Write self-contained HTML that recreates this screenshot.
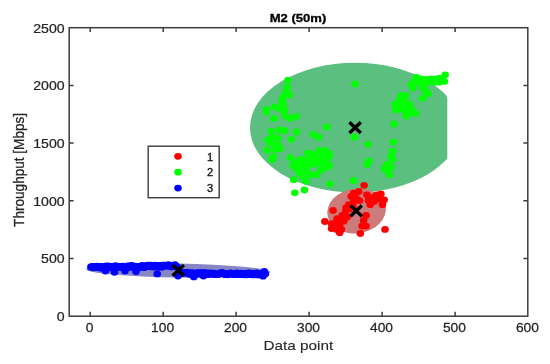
<!DOCTYPE html>
<html lang="en"><head><meta charset="utf-8"><title>M2 (50m)</title>
<style>html,body{margin:0;padding:0;background:#fff}body{width:550px;height:364px;overflow:hidden}</style>
</head><body>
<svg width="550" height="364" viewBox="0 0 550 364" style="display:block;filter:blur(0.3px)">
<rect x="0" y="0" width="550" height="364" fill="#ffffff"/>
<defs><clipPath id="gc"><rect x="0" y="0" width="447.3" height="364"/></clipPath></defs>
<ellipse cx="355" cy="127.6" rx="105" ry="64.8" fill="#5bbf80" clip-path="url(#gc)"/>
<ellipse cx="356.6" cy="210.9" rx="29.4" ry="22.4" fill="#cc7a7a" transform="rotate(-8 356.6 210.9)"/>
<ellipse cx="178.2" cy="270.6" rx="92" ry="7.0" fill="#8686c5" transform="rotate(0.9 178.2 270.6)"/>
<g fill="#ff0000"><ellipse cx="364.1" cy="185.3" rx="3.8" ry="3.4"/><ellipse cx="358.7" cy="191.5" rx="3.8" ry="3.4"/><ellipse cx="353.7" cy="193.2" rx="3.8" ry="3.4"/><ellipse cx="351.2" cy="196.5" rx="3.8" ry="3.4"/><ellipse cx="356.2" cy="198.1" rx="3.8" ry="3.4"/><ellipse cx="359.5" cy="200.6" rx="3.8" ry="3.4"/><ellipse cx="353.7" cy="201.4" rx="3.8" ry="3.4"/><ellipse cx="348.8" cy="204.7" rx="3.8" ry="3.4"/><ellipse cx="353.0" cy="207.0" rx="3.8" ry="3.4"/><ellipse cx="366.9" cy="194.8" rx="3.8" ry="3.4"/><ellipse cx="371.8" cy="197.3" rx="3.8" ry="3.4"/><ellipse cx="376.8" cy="194.8" rx="3.8" ry="3.4"/><ellipse cx="380.9" cy="194.0" rx="3.8" ry="3.4"/><ellipse cx="384.2" cy="199.8" rx="3.8" ry="3.4"/><ellipse cx="382.5" cy="204.7" rx="3.8" ry="3.4"/><ellipse cx="378.4" cy="198.9" rx="3.8" ry="3.4"/><ellipse cx="374.3" cy="201.4" rx="3.8" ry="3.4"/><ellipse cx="370.2" cy="204.7" rx="3.8" ry="3.4"/><ellipse cx="368.5" cy="200.6" rx="3.8" ry="3.4"/><ellipse cx="333.1" cy="210.5" rx="3.8" ry="3.4"/><ellipse cx="345.5" cy="212.1" rx="3.8" ry="3.4"/><ellipse cx="342.2" cy="215.4" rx="3.8" ry="3.4"/><ellipse cx="347.1" cy="217.1" rx="3.8" ry="3.4"/><ellipse cx="337.2" cy="218.7" rx="3.8" ry="3.4"/><ellipse cx="324.9" cy="221.5" rx="3.8" ry="3.4"/><ellipse cx="331.5" cy="223.7" rx="3.8" ry="3.4"/><ellipse cx="335.6" cy="222.8" rx="3.8" ry="3.4"/><ellipse cx="339.7" cy="224.5" rx="3.8" ry="3.4"/><ellipse cx="343.8" cy="221.2" rx="3.8" ry="3.4"/><ellipse cx="331.5" cy="228.6" rx="3.8" ry="3.4"/><ellipse cx="336.4" cy="229.4" rx="3.8" ry="3.4"/><ellipse cx="341.4" cy="229.4" rx="3.8" ry="3.4"/><ellipse cx="339.7" cy="232.7" rx="3.8" ry="3.4"/><ellipse cx="366.1" cy="215.4" rx="3.8" ry="3.4"/><ellipse cx="363.6" cy="220.4" rx="3.8" ry="3.4"/><ellipse cx="362.0" cy="226.1" rx="3.8" ry="3.4"/><ellipse cx="366.1" cy="226.1" rx="3.8" ry="3.4"/><ellipse cx="360.3" cy="233.5" rx="3.8" ry="3.4"/><ellipse cx="385.0" cy="229.4" rx="3.8" ry="3.4"/><ellipse cx="350.0" cy="209.0" rx="3.8" ry="3.4"/><ellipse cx="346.0" cy="208.0" rx="3.8" ry="3.4"/></g>
<g fill="#00ff00"><ellipse cx="287.9" cy="80.1" rx="3.8" ry="3.4"/><ellipse cx="287.1" cy="87.2" rx="3.8" ry="3.4"/><ellipse cx="285.9" cy="91.6" rx="3.8" ry="3.4"/><ellipse cx="289.2" cy="94.9" rx="3.8" ry="3.4"/><ellipse cx="283.0" cy="97.1" rx="3.8" ry="3.4"/><ellipse cx="282.1" cy="100.9" rx="3.8" ry="3.4"/><ellipse cx="283.0" cy="103.7" rx="3.8" ry="3.4"/><ellipse cx="275.0" cy="107.0" rx="3.8" ry="3.4"/><ellipse cx="266.5" cy="109.4" rx="3.8" ry="3.4"/><ellipse cx="266.5" cy="111.9" rx="3.8" ry="3.4"/><ellipse cx="279.7" cy="108.6" rx="3.8" ry="3.4"/><ellipse cx="284.6" cy="109.4" rx="3.8" ry="3.4"/><ellipse cx="285.4" cy="116.0" rx="3.8" ry="3.4"/><ellipse cx="296.1" cy="116.3" rx="3.8" ry="3.4"/><ellipse cx="290.4" cy="118.5" rx="3.8" ry="3.4"/><ellipse cx="273.9" cy="118.5" rx="3.8" ry="3.4"/><ellipse cx="283.0" cy="110.8" rx="3.8" ry="3.4"/><ellipse cx="271.4" cy="131.4" rx="3.8" ry="3.4"/><ellipse cx="279.7" cy="129.8" rx="3.8" ry="3.4"/><ellipse cx="284.6" cy="130.6" rx="3.8" ry="3.4"/><ellipse cx="296.5" cy="131.9" rx="3.8" ry="3.4"/><ellipse cx="326.6" cy="127.0" rx="3.8" ry="3.4"/><ellipse cx="313.4" cy="134.7" rx="3.8" ry="3.4"/><ellipse cx="318.4" cy="137.2" rx="3.8" ry="3.4"/><ellipse cx="291.5" cy="139.3" rx="3.8" ry="3.4"/><ellipse cx="268.1" cy="139.7" rx="3.8" ry="3.4"/><ellipse cx="273.1" cy="137.2" rx="3.8" ry="3.4"/><ellipse cx="278.0" cy="138.0" rx="3.8" ry="3.4"/><ellipse cx="270.6" cy="143.0" rx="3.8" ry="3.4"/><ellipse cx="277.2" cy="144.6" rx="3.8" ry="3.4"/><ellipse cx="279.7" cy="148.7" rx="3.8" ry="3.4"/><ellipse cx="267.3" cy="150.0" rx="3.8" ry="3.4"/><ellipse cx="275.5" cy="149.5" rx="3.8" ry="3.4"/><ellipse cx="273.1" cy="157.0" rx="3.8" ry="3.4"/><ellipse cx="272.2" cy="159.4" rx="3.8" ry="3.4"/><ellipse cx="290.4" cy="157.8" rx="3.8" ry="3.4"/><ellipse cx="307.7" cy="152.8" rx="3.8" ry="3.4"/><ellipse cx="312.6" cy="154.5" rx="3.8" ry="3.4"/><ellipse cx="319.2" cy="150.4" rx="3.8" ry="3.4"/><ellipse cx="325.0" cy="150.4" rx="3.8" ry="3.4"/><ellipse cx="329.1" cy="153.7" rx="3.8" ry="3.4"/><ellipse cx="322.5" cy="157.0" rx="3.8" ry="3.4"/><ellipse cx="315.9" cy="159.4" rx="3.8" ry="3.4"/><ellipse cx="309.3" cy="158.6" rx="3.8" ry="3.4"/><ellipse cx="301.1" cy="159.4" rx="3.8" ry="3.4"/><ellipse cx="297.0" cy="161.9" rx="3.8" ry="3.4"/><ellipse cx="292.8" cy="165.2" rx="3.8" ry="3.4"/><ellipse cx="299.4" cy="166.0" rx="3.8" ry="3.4"/><ellipse cx="306.0" cy="165.2" rx="3.8" ry="3.4"/><ellipse cx="312.6" cy="164.4" rx="3.8" ry="3.4"/><ellipse cx="319.2" cy="162.7" rx="3.8" ry="3.4"/><ellipse cx="325.8" cy="161.1" rx="3.8" ry="3.4"/><ellipse cx="329.1" cy="165.2" rx="3.8" ry="3.4"/><ellipse cx="322.5" cy="167.7" rx="3.8" ry="3.4"/><ellipse cx="293.7" cy="165.7" rx="3.8" ry="3.4"/><ellipse cx="297.8" cy="162.4" rx="3.8" ry="3.4"/><ellipse cx="301.9" cy="159.9" rx="3.8" ry="3.4"/><ellipse cx="307.7" cy="153.3" rx="3.8" ry="3.4"/><ellipse cx="312.6" cy="156.6" rx="3.8" ry="3.4"/><ellipse cx="319.2" cy="152.5" rx="3.8" ry="3.4"/><ellipse cx="325.0" cy="153.3" rx="3.8" ry="3.4"/><ellipse cx="329.1" cy="156.6" rx="3.8" ry="3.4"/><ellipse cx="322.5" cy="159.9" rx="3.8" ry="3.4"/><ellipse cx="315.9" cy="162.4" rx="3.8" ry="3.4"/><ellipse cx="309.3" cy="163.2" rx="3.8" ry="3.4"/><ellipse cx="302.7" cy="165.7" rx="3.8" ry="3.4"/><ellipse cx="297.0" cy="168.9" rx="3.8" ry="3.4"/><ellipse cx="299.4" cy="173.1" rx="3.8" ry="3.4"/><ellipse cx="306.0" cy="170.6" rx="3.8" ry="3.4"/><ellipse cx="311.0" cy="174.7" rx="3.8" ry="3.4"/><ellipse cx="316.7" cy="174.7" rx="3.8" ry="3.4"/><ellipse cx="320.8" cy="169.8" rx="3.8" ry="3.4"/><ellipse cx="326.6" cy="167.3" rx="3.8" ry="3.4"/><ellipse cx="329.1" cy="165.7" rx="3.8" ry="3.4"/><ellipse cx="303.5" cy="177.2" rx="3.8" ry="3.4"/><ellipse cx="306.0" cy="181.3" rx="3.8" ry="3.4"/><ellipse cx="293.7" cy="179.7" rx="3.8" ry="3.4"/><ellipse cx="329.9" cy="183.8" rx="3.8" ry="3.4"/><ellipse cx="304.4" cy="190.0" rx="3.8" ry="3.4"/><ellipse cx="294.8" cy="192.8" rx="3.8" ry="3.4"/><ellipse cx="355.0" cy="84.0" rx="3.8" ry="3.4"/><ellipse cx="445.2" cy="74.8" rx="3.8" ry="3.4"/><ellipse cx="444.4" cy="81.4" rx="3.8" ry="3.4"/><ellipse cx="440.2" cy="78.1" rx="3.8" ry="3.4"/><ellipse cx="436.1" cy="78.9" rx="3.8" ry="3.4"/><ellipse cx="431.2" cy="78.9" rx="3.8" ry="3.4"/><ellipse cx="426.2" cy="79.4" rx="3.8" ry="3.4"/><ellipse cx="421.3" cy="78.9" rx="3.8" ry="3.4"/><ellipse cx="416.4" cy="77.3" rx="3.8" ry="3.4"/><ellipse cx="439.4" cy="82.2" rx="3.8" ry="3.4"/><ellipse cx="434.5" cy="82.2" rx="3.8" ry="3.4"/><ellipse cx="429.5" cy="82.2" rx="3.8" ry="3.4"/><ellipse cx="424.6" cy="82.2" rx="3.8" ry="3.4"/><ellipse cx="419.7" cy="82.2" rx="3.8" ry="3.4"/><ellipse cx="414.7" cy="81.4" rx="3.8" ry="3.4"/><ellipse cx="411.4" cy="84.7" rx="3.8" ry="3.4"/><ellipse cx="413.1" cy="88.0" rx="3.8" ry="3.4"/><ellipse cx="422.9" cy="87.2" rx="3.8" ry="3.4"/><ellipse cx="425.4" cy="90.5" rx="3.8" ry="3.4"/><ellipse cx="427.9" cy="93.8" rx="3.8" ry="3.4"/><ellipse cx="422.5" cy="98.2" rx="3.8" ry="3.4"/><ellipse cx="401.5" cy="95.4" rx="3.8" ry="3.4"/><ellipse cx="405.7" cy="95.9" rx="3.8" ry="3.4"/><ellipse cx="399.9" cy="99.5" rx="3.8" ry="3.4"/><ellipse cx="404.0" cy="100.4" rx="3.8" ry="3.4"/><ellipse cx="394.9" cy="104.5" rx="3.8" ry="3.4"/><ellipse cx="399.9" cy="104.5" rx="3.8" ry="3.4"/><ellipse cx="404.8" cy="104.5" rx="3.8" ry="3.4"/><ellipse cx="409.8" cy="104.5" rx="3.8" ry="3.4"/><ellipse cx="395.8" cy="108.6" rx="3.8" ry="3.4"/><ellipse cx="401.5" cy="108.6" rx="3.8" ry="3.4"/><ellipse cx="406.5" cy="109.4" rx="3.8" ry="3.4"/><ellipse cx="411.4" cy="109.4" rx="3.8" ry="3.4"/><ellipse cx="405.7" cy="113.5" rx="3.8" ry="3.4"/><ellipse cx="410.6" cy="112.7" rx="3.8" ry="3.4"/><ellipse cx="415.5" cy="113.5" rx="3.8" ry="3.4"/><ellipse cx="406.5" cy="116.0" rx="3.8" ry="3.4"/><ellipse cx="354.3" cy="137.2" rx="3.8" ry="3.4"/><ellipse cx="368.0" cy="144.3" rx="3.8" ry="3.4"/><ellipse cx="394.0" cy="124.0" rx="3.8" ry="3.4"/><ellipse cx="393.5" cy="142.1" rx="3.8" ry="3.4"/><ellipse cx="392.7" cy="151.2" rx="3.8" ry="3.4"/><ellipse cx="391.1" cy="157.0" rx="3.8" ry="3.4"/><ellipse cx="392.7" cy="159.4" rx="3.8" ry="3.4"/><ellipse cx="368.8" cy="161.1" rx="3.8" ry="3.4"/><ellipse cx="367.2" cy="164.4" rx="3.8" ry="3.4"/><ellipse cx="387.0" cy="164.4" rx="3.8" ry="3.4"/><ellipse cx="389.4" cy="167.7" rx="3.8" ry="3.4"/><ellipse cx="384.5" cy="168.5" rx="3.8" ry="3.4"/><ellipse cx="396.0" cy="110.0" rx="3.8" ry="3.4"/><ellipse cx="409.2" cy="110.8" rx="3.8" ry="3.4"/><ellipse cx="391.1" cy="167.3" rx="3.8" ry="3.4"/><ellipse cx="385.3" cy="169.8" rx="3.8" ry="3.4"/><ellipse cx="389.4" cy="174.7" rx="3.8" ry="3.4"/><ellipse cx="353.5" cy="180.5" rx="3.8" ry="3.4"/></g>
<g fill="#0000ff"><ellipse cx="90.9" cy="267.0" rx="3.8" ry="3.4"/><ellipse cx="91.7" cy="266.6" rx="3.8" ry="3.4"/><ellipse cx="92.4" cy="267.8" rx="3.8" ry="3.4"/><ellipse cx="93.1" cy="266.4" rx="3.8" ry="3.4"/><ellipse cx="93.8" cy="267.5" rx="3.8" ry="3.4"/><ellipse cx="94.6" cy="267.1" rx="3.8" ry="3.4"/><ellipse cx="95.3" cy="266.3" rx="3.8" ry="3.4"/><ellipse cx="96.0" cy="267.4" rx="3.8" ry="3.4"/><ellipse cx="96.8" cy="266.2" rx="3.8" ry="3.4"/><ellipse cx="97.5" cy="267.2" rx="3.8" ry="3.4"/><ellipse cx="98.2" cy="266.3" rx="3.8" ry="3.4"/><ellipse cx="99.0" cy="266.3" rx="3.8" ry="3.4"/><ellipse cx="99.7" cy="267.1" rx="3.8" ry="3.4"/><ellipse cx="100.4" cy="268.1" rx="3.8" ry="3.4"/><ellipse cx="101.1" cy="266.3" rx="3.8" ry="3.4"/><ellipse cx="101.9" cy="266.6" rx="3.8" ry="3.4"/><ellipse cx="102.6" cy="267.6" rx="3.8" ry="3.4"/><ellipse cx="103.3" cy="268.3" rx="3.8" ry="3.4"/><ellipse cx="104.1" cy="267.4" rx="3.8" ry="3.4"/><ellipse cx="104.8" cy="266.9" rx="3.8" ry="3.4"/><ellipse cx="105.5" cy="268.4" rx="3.8" ry="3.4"/><ellipse cx="106.3" cy="266.0" rx="3.8" ry="3.4"/><ellipse cx="107.0" cy="268.0" rx="3.8" ry="3.4"/><ellipse cx="107.7" cy="266.6" rx="3.8" ry="3.4"/><ellipse cx="108.4" cy="266.2" rx="3.8" ry="3.4"/><ellipse cx="109.2" cy="266.2" rx="3.8" ry="3.4"/><ellipse cx="109.9" cy="266.6" rx="3.8" ry="3.4"/><ellipse cx="110.6" cy="267.9" rx="3.8" ry="3.4"/><ellipse cx="111.4" cy="266.3" rx="3.8" ry="3.4"/><ellipse cx="112.1" cy="267.3" rx="3.8" ry="3.4"/><ellipse cx="112.8" cy="267.4" rx="3.8" ry="3.4"/><ellipse cx="113.6" cy="266.7" rx="3.8" ry="3.4"/><ellipse cx="114.3" cy="267.1" rx="3.8" ry="3.4"/><ellipse cx="115.0" cy="265.9" rx="3.8" ry="3.4"/><ellipse cx="115.7" cy="265.9" rx="3.8" ry="3.4"/><ellipse cx="116.5" cy="266.2" rx="3.8" ry="3.4"/><ellipse cx="117.2" cy="267.4" rx="3.8" ry="3.4"/><ellipse cx="117.9" cy="266.7" rx="3.8" ry="3.4"/><ellipse cx="118.7" cy="266.4" rx="3.8" ry="3.4"/><ellipse cx="119.4" cy="267.1" rx="3.8" ry="3.4"/><ellipse cx="120.1" cy="266.8" rx="3.8" ry="3.4"/><ellipse cx="120.8" cy="266.4" rx="3.8" ry="3.4"/><ellipse cx="121.6" cy="267.6" rx="3.8" ry="3.4"/><ellipse cx="122.3" cy="267.3" rx="3.8" ry="3.4"/><ellipse cx="123.0" cy="266.2" rx="3.8" ry="3.4"/><ellipse cx="123.8" cy="267.0" rx="3.8" ry="3.4"/><ellipse cx="124.5" cy="266.9" rx="3.8" ry="3.4"/><ellipse cx="125.2" cy="267.7" rx="3.8" ry="3.4"/><ellipse cx="126.0" cy="267.3" rx="3.8" ry="3.4"/><ellipse cx="126.7" cy="266.2" rx="3.8" ry="3.4"/><ellipse cx="127.4" cy="267.9" rx="3.8" ry="3.4"/><ellipse cx="128.1" cy="265.8" rx="3.8" ry="3.4"/><ellipse cx="128.9" cy="266.5" rx="3.8" ry="3.4"/><ellipse cx="129.6" cy="267.3" rx="3.8" ry="3.4"/><ellipse cx="130.3" cy="265.8" rx="3.8" ry="3.4"/><ellipse cx="131.1" cy="266.6" rx="3.8" ry="3.4"/><ellipse cx="131.8" cy="265.5" rx="3.8" ry="3.4"/><ellipse cx="132.5" cy="267.0" rx="3.8" ry="3.4"/><ellipse cx="133.3" cy="267.3" rx="3.8" ry="3.4"/><ellipse cx="134.0" cy="266.8" rx="3.8" ry="3.4"/><ellipse cx="134.7" cy="267.5" rx="3.8" ry="3.4"/><ellipse cx="135.4" cy="266.1" rx="3.8" ry="3.4"/><ellipse cx="136.2" cy="267.0" rx="3.8" ry="3.4"/><ellipse cx="136.9" cy="266.8" rx="3.8" ry="3.4"/><ellipse cx="137.6" cy="266.7" rx="3.8" ry="3.4"/><ellipse cx="138.4" cy="266.4" rx="3.8" ry="3.4"/><ellipse cx="139.1" cy="267.3" rx="3.8" ry="3.4"/><ellipse cx="139.8" cy="267.6" rx="3.8" ry="3.4"/><ellipse cx="140.5" cy="266.4" rx="3.8" ry="3.4"/><ellipse cx="141.3" cy="266.9" rx="3.8" ry="3.4"/><ellipse cx="142.0" cy="265.3" rx="3.8" ry="3.4"/><ellipse cx="142.7" cy="266.9" rx="3.8" ry="3.4"/><ellipse cx="143.5" cy="266.8" rx="3.8" ry="3.4"/><ellipse cx="144.2" cy="267.6" rx="3.8" ry="3.4"/><ellipse cx="144.9" cy="267.2" rx="3.8" ry="3.4"/><ellipse cx="145.7" cy="265.8" rx="3.8" ry="3.4"/><ellipse cx="146.4" cy="266.0" rx="3.8" ry="3.4"/><ellipse cx="147.1" cy="266.7" rx="3.8" ry="3.4"/><ellipse cx="147.8" cy="265.1" rx="3.8" ry="3.4"/><ellipse cx="148.6" cy="266.2" rx="3.8" ry="3.4"/><ellipse cx="149.3" cy="265.4" rx="3.8" ry="3.4"/><ellipse cx="150.0" cy="265.3" rx="3.8" ry="3.4"/><ellipse cx="150.8" cy="265.1" rx="3.8" ry="3.4"/><ellipse cx="151.5" cy="266.9" rx="3.8" ry="3.4"/><ellipse cx="152.2" cy="265.3" rx="3.8" ry="3.4"/><ellipse cx="153.0" cy="265.6" rx="3.8" ry="3.4"/><ellipse cx="153.7" cy="265.9" rx="3.8" ry="3.4"/><ellipse cx="154.4" cy="267.1" rx="3.8" ry="3.4"/><ellipse cx="155.1" cy="265.1" rx="3.8" ry="3.4"/><ellipse cx="155.9" cy="266.0" rx="3.8" ry="3.4"/><ellipse cx="156.6" cy="266.2" rx="3.8" ry="3.4"/><ellipse cx="157.3" cy="267.1" rx="3.8" ry="3.4"/><ellipse cx="158.1" cy="266.9" rx="3.8" ry="3.4"/><ellipse cx="158.8" cy="267.0" rx="3.8" ry="3.4"/><ellipse cx="159.5" cy="265.5" rx="3.8" ry="3.4"/><ellipse cx="160.3" cy="265.8" rx="3.8" ry="3.4"/><ellipse cx="161.0" cy="265.7" rx="3.8" ry="3.4"/><ellipse cx="161.7" cy="267.0" rx="3.8" ry="3.4"/><ellipse cx="162.4" cy="267.1" rx="3.8" ry="3.4"/><ellipse cx="163.2" cy="265.1" rx="3.8" ry="3.4"/><ellipse cx="163.9" cy="265.2" rx="3.8" ry="3.4"/><ellipse cx="164.6" cy="265.3" rx="3.8" ry="3.4"/><ellipse cx="165.4" cy="265.3" rx="3.8" ry="3.4"/><ellipse cx="166.1" cy="265.9" rx="3.8" ry="3.4"/><ellipse cx="166.8" cy="266.1" rx="3.8" ry="3.4"/><ellipse cx="167.5" cy="265.3" rx="3.8" ry="3.4"/><ellipse cx="168.3" cy="264.6" rx="3.8" ry="3.4"/><ellipse cx="169.0" cy="265.7" rx="3.8" ry="3.4"/><ellipse cx="169.7" cy="265.5" rx="3.8" ry="3.4"/><ellipse cx="170.5" cy="266.0" rx="3.8" ry="3.4"/><ellipse cx="171.2" cy="267.0" rx="3.8" ry="3.4"/><ellipse cx="171.9" cy="266.3" rx="3.8" ry="3.4"/><ellipse cx="172.7" cy="265.8" rx="3.8" ry="3.4"/><ellipse cx="173.4" cy="266.1" rx="3.8" ry="3.4"/><ellipse cx="174.1" cy="266.2" rx="3.8" ry="3.4"/><ellipse cx="174.8" cy="264.6" rx="3.8" ry="3.4"/><ellipse cx="175.6" cy="266.7" rx="3.8" ry="3.4"/><ellipse cx="176.3" cy="266.4" rx="3.8" ry="3.4"/><ellipse cx="177.0" cy="266.6" rx="3.8" ry="3.4"/><ellipse cx="177.8" cy="274.1" rx="3.8" ry="3.4"/><ellipse cx="178.5" cy="273.3" rx="3.8" ry="3.4"/><ellipse cx="179.2" cy="273.3" rx="3.8" ry="3.4"/><ellipse cx="180.0" cy="272.7" rx="3.8" ry="3.4"/><ellipse cx="180.7" cy="273.8" rx="3.8" ry="3.4"/><ellipse cx="181.4" cy="272.6" rx="3.8" ry="3.4"/><ellipse cx="182.1" cy="272.6" rx="3.8" ry="3.4"/><ellipse cx="182.9" cy="272.9" rx="3.8" ry="3.4"/><ellipse cx="183.6" cy="272.8" rx="3.8" ry="3.4"/><ellipse cx="184.3" cy="273.2" rx="3.8" ry="3.4"/><ellipse cx="185.1" cy="272.6" rx="3.8" ry="3.4"/><ellipse cx="185.8" cy="272.5" rx="3.8" ry="3.4"/><ellipse cx="186.5" cy="272.8" rx="3.8" ry="3.4"/><ellipse cx="187.3" cy="272.7" rx="3.8" ry="3.4"/><ellipse cx="188.0" cy="273.3" rx="3.8" ry="3.4"/><ellipse cx="188.7" cy="272.6" rx="3.8" ry="3.4"/><ellipse cx="189.4" cy="274.3" rx="3.8" ry="3.4"/><ellipse cx="190.2" cy="273.8" rx="3.8" ry="3.4"/><ellipse cx="190.9" cy="272.8" rx="3.8" ry="3.4"/><ellipse cx="191.6" cy="273.0" rx="3.8" ry="3.4"/><ellipse cx="192.4" cy="273.2" rx="3.8" ry="3.4"/><ellipse cx="193.1" cy="273.3" rx="3.8" ry="3.4"/><ellipse cx="193.8" cy="272.8" rx="3.8" ry="3.4"/><ellipse cx="194.5" cy="274.3" rx="3.8" ry="3.4"/><ellipse cx="195.3" cy="274.6" rx="3.8" ry="3.4"/><ellipse cx="196.0" cy="273.5" rx="3.8" ry="3.4"/><ellipse cx="196.7" cy="273.6" rx="3.8" ry="3.4"/><ellipse cx="197.5" cy="272.7" rx="3.8" ry="3.4"/><ellipse cx="198.2" cy="272.8" rx="3.8" ry="3.4"/><ellipse cx="198.9" cy="273.3" rx="3.8" ry="3.4"/><ellipse cx="199.7" cy="273.1" rx="3.8" ry="3.4"/><ellipse cx="200.4" cy="274.3" rx="3.8" ry="3.4"/><ellipse cx="201.1" cy="272.9" rx="3.8" ry="3.4"/><ellipse cx="201.8" cy="272.6" rx="3.8" ry="3.4"/><ellipse cx="202.6" cy="274.6" rx="3.8" ry="3.4"/><ellipse cx="203.3" cy="273.7" rx="3.8" ry="3.4"/><ellipse cx="204.0" cy="272.9" rx="3.8" ry="3.4"/><ellipse cx="204.8" cy="273.7" rx="3.8" ry="3.4"/><ellipse cx="205.5" cy="272.6" rx="3.8" ry="3.4"/><ellipse cx="206.2" cy="273.7" rx="3.8" ry="3.4"/><ellipse cx="207.0" cy="274.6" rx="3.8" ry="3.4"/><ellipse cx="207.7" cy="274.4" rx="3.8" ry="3.4"/><ellipse cx="208.4" cy="274.1" rx="3.8" ry="3.4"/><ellipse cx="209.1" cy="273.1" rx="3.8" ry="3.4"/><ellipse cx="209.9" cy="273.4" rx="3.8" ry="3.4"/><ellipse cx="210.6" cy="273.0" rx="3.8" ry="3.4"/><ellipse cx="211.3" cy="274.2" rx="3.8" ry="3.4"/><ellipse cx="212.1" cy="273.7" rx="3.8" ry="3.4"/><ellipse cx="212.8" cy="274.2" rx="3.8" ry="3.4"/><ellipse cx="213.5" cy="273.3" rx="3.8" ry="3.4"/><ellipse cx="214.2" cy="273.1" rx="3.8" ry="3.4"/><ellipse cx="215.0" cy="274.3" rx="3.8" ry="3.4"/><ellipse cx="215.7" cy="274.7" rx="3.8" ry="3.4"/><ellipse cx="216.4" cy="274.4" rx="3.8" ry="3.4"/><ellipse cx="217.2" cy="274.3" rx="3.8" ry="3.4"/><ellipse cx="217.9" cy="274.4" rx="3.8" ry="3.4"/><ellipse cx="218.6" cy="274.2" rx="3.8" ry="3.4"/><ellipse cx="219.4" cy="273.1" rx="3.8" ry="3.4"/><ellipse cx="220.1" cy="273.7" rx="3.8" ry="3.4"/><ellipse cx="220.8" cy="273.4" rx="3.8" ry="3.4"/><ellipse cx="221.5" cy="272.7" rx="3.8" ry="3.4"/><ellipse cx="222.3" cy="272.7" rx="3.8" ry="3.4"/><ellipse cx="223.0" cy="273.2" rx="3.8" ry="3.4"/><ellipse cx="223.7" cy="273.2" rx="3.8" ry="3.4"/><ellipse cx="224.5" cy="274.1" rx="3.8" ry="3.4"/><ellipse cx="225.2" cy="274.7" rx="3.8" ry="3.4"/><ellipse cx="225.9" cy="273.6" rx="3.8" ry="3.4"/><ellipse cx="226.7" cy="274.6" rx="3.8" ry="3.4"/><ellipse cx="227.4" cy="274.8" rx="3.8" ry="3.4"/><ellipse cx="228.1" cy="274.7" rx="3.8" ry="3.4"/><ellipse cx="228.8" cy="273.4" rx="3.8" ry="3.4"/><ellipse cx="229.6" cy="273.1" rx="3.8" ry="3.4"/><ellipse cx="230.3" cy="273.2" rx="3.8" ry="3.4"/><ellipse cx="231.0" cy="273.1" rx="3.8" ry="3.4"/><ellipse cx="231.8" cy="273.1" rx="3.8" ry="3.4"/><ellipse cx="232.5" cy="274.0" rx="3.8" ry="3.4"/><ellipse cx="233.2" cy="274.6" rx="3.8" ry="3.4"/><ellipse cx="234.0" cy="274.5" rx="3.8" ry="3.4"/><ellipse cx="234.7" cy="273.7" rx="3.8" ry="3.4"/><ellipse cx="235.4" cy="274.1" rx="3.8" ry="3.4"/><ellipse cx="236.1" cy="274.4" rx="3.8" ry="3.4"/><ellipse cx="236.9" cy="272.9" rx="3.8" ry="3.4"/><ellipse cx="237.6" cy="274.1" rx="3.8" ry="3.4"/><ellipse cx="238.3" cy="274.6" rx="3.8" ry="3.4"/><ellipse cx="239.1" cy="274.4" rx="3.8" ry="3.4"/><ellipse cx="239.8" cy="274.3" rx="3.8" ry="3.4"/><ellipse cx="240.5" cy="273.7" rx="3.8" ry="3.4"/><ellipse cx="241.2" cy="273.1" rx="3.8" ry="3.4"/><ellipse cx="242.0" cy="274.4" rx="3.8" ry="3.4"/><ellipse cx="242.7" cy="273.4" rx="3.8" ry="3.4"/><ellipse cx="243.4" cy="274.4" rx="3.8" ry="3.4"/><ellipse cx="244.2" cy="274.8" rx="3.8" ry="3.4"/><ellipse cx="244.9" cy="273.6" rx="3.8" ry="3.4"/><ellipse cx="245.6" cy="273.6" rx="3.8" ry="3.4"/><ellipse cx="246.4" cy="274.8" rx="3.8" ry="3.4"/><ellipse cx="247.1" cy="274.3" rx="3.8" ry="3.4"/><ellipse cx="247.8" cy="273.1" rx="3.8" ry="3.4"/><ellipse cx="248.5" cy="273.0" rx="3.8" ry="3.4"/><ellipse cx="249.3" cy="273.1" rx="3.8" ry="3.4"/><ellipse cx="250.0" cy="274.7" rx="3.8" ry="3.4"/><ellipse cx="250.7" cy="274.5" rx="3.8" ry="3.4"/><ellipse cx="251.5" cy="273.1" rx="3.8" ry="3.4"/><ellipse cx="252.2" cy="274.5" rx="3.8" ry="3.4"/><ellipse cx="252.9" cy="274.9" rx="3.8" ry="3.4"/><ellipse cx="253.7" cy="274.2" rx="3.8" ry="3.4"/><ellipse cx="254.4" cy="273.5" rx="3.8" ry="3.4"/><ellipse cx="255.1" cy="274.0" rx="3.8" ry="3.4"/><ellipse cx="255.8" cy="273.1" rx="3.8" ry="3.4"/><ellipse cx="256.6" cy="272.8" rx="3.8" ry="3.4"/><ellipse cx="257.3" cy="274.9" rx="3.8" ry="3.4"/><ellipse cx="258.0" cy="274.2" rx="3.8" ry="3.4"/><ellipse cx="258.8" cy="273.9" rx="3.8" ry="3.4"/><ellipse cx="259.5" cy="274.8" rx="3.8" ry="3.4"/><ellipse cx="260.2" cy="273.7" rx="3.8" ry="3.4"/><ellipse cx="260.9" cy="274.7" rx="3.8" ry="3.4"/><ellipse cx="261.7" cy="274.6" rx="3.8" ry="3.4"/><ellipse cx="262.4" cy="273.3" rx="3.8" ry="3.4"/><ellipse cx="263.1" cy="273.4" rx="3.8" ry="3.4"/><ellipse cx="263.9" cy="273.5" rx="3.8" ry="3.4"/><ellipse cx="264.6" cy="273.4" rx="3.8" ry="3.4"/><ellipse cx="265.3" cy="274.1" rx="3.8" ry="3.4"/><ellipse cx="105.4" cy="271.0" rx="3.8" ry="3.4"/><ellipse cx="114.5" cy="272.3" rx="3.8" ry="3.4"/><ellipse cx="125.0" cy="271.0" rx="3.8" ry="3.4"/><ellipse cx="136.0" cy="271.5" rx="3.8" ry="3.4"/><ellipse cx="157.2" cy="273.9" rx="3.8" ry="3.4"/><ellipse cx="178.0" cy="276.1" rx="3.8" ry="3.4"/><ellipse cx="193.8" cy="276.9" rx="3.8" ry="3.4"/><ellipse cx="203.4" cy="276.1" rx="3.8" ry="3.4"/><ellipse cx="264.3" cy="271.3" rx="3.8" ry="3.4"/><ellipse cx="263.0" cy="276.2" rx="3.8" ry="3.4"/></g>
<path d="M349.4 122.3L360.8 132.9M349.4 132.9L360.8 122.3" stroke="#000" stroke-width="3.4" fill="none"/>
<path d="M350.5 205.6L361.9 216.2M350.5 216.2L361.9 205.6" stroke="#000" stroke-width="3.4" fill="none"/>
<path d="M172.5 265.1L183.9 275.7M172.5 275.7L183.9 265.1" stroke="#000" stroke-width="3.4" fill="none"/>
<g stroke="#3c3c3c" stroke-width="1.5" fill="none">
<rect x="69.2" y="27.7" width="458.59999999999997" height="288.5"/>
<path d="M90.2 316.2v-4.4M90.2 27.7v4.4"/>
<path d="M163.2 316.2v-4.4M163.2 27.7v4.4"/>
<path d="M236.1 316.2v-4.4M236.1 27.7v4.4"/>
<path d="M309.1 316.2v-4.4M309.1 27.7v4.4"/>
<path d="M382.1 316.2v-4.4M382.1 27.7v4.4"/>
<path d="M455.1 316.2v-4.4M455.1 27.7v4.4"/>
<path d="M69.2 258.5h4.4M527.8 258.5h-4.4"/>
<path d="M69.2 200.8h4.4M527.8 200.8h-4.4"/>
<path d="M69.2 143.1h4.4M527.8 143.1h-4.4"/>
<path d="M69.2 85.4h4.4M527.8 85.4h-4.4"/>
</g>
<g font-family="Liberation Sans, Arial, Helvetica, sans-serif" font-size="13.4" fill="#262626" stroke="#262626" stroke-width="0.25">
<text transform="translate(89.6 332.4) scale(1.03 1)" text-anchor="middle">0</text>
<text transform="translate(162.6 332.4) scale(1.03 1)" text-anchor="middle">100</text>
<text transform="translate(235.5 332.4) scale(1.03 1)" text-anchor="middle">200</text>
<text transform="translate(308.5 332.4) scale(1.03 1)" text-anchor="middle">300</text>
<text transform="translate(381.5 332.4) scale(1.03 1)" text-anchor="middle">400</text>
<text transform="translate(454.4 332.4) scale(1.03 1)" text-anchor="middle">500</text>
<text transform="translate(527.4 332.4) scale(1.03 1)" text-anchor="middle">600</text>
<text transform="translate(64.6 321.1) scale(1.053 1)" text-anchor="end">0</text>
<text transform="translate(64.6 263.4) scale(1.053 1)" text-anchor="end">500</text>
<text transform="translate(64.6 205.7) scale(1.053 1)" text-anchor="end">1000</text>
<text transform="translate(64.6 148.0) scale(1.053 1)" text-anchor="end">1500</text>
<text transform="translate(64.6 90.3) scale(1.053 1)" text-anchor="end">2000</text>
<text transform="translate(64.6 32.6) scale(1.053 1)" text-anchor="end">2500</text>
</g>
<text font-family="Liberation Sans, Arial, Helvetica, sans-serif" font-size="12.6" fill="#262626" stroke="#262626" stroke-width="0.1" transform="translate(298.4 350.2) scale(1.215 1)" text-anchor="middle">Data point</text>
<text font-family="Liberation Sans, Arial, Helvetica, sans-serif" font-size="13.6" fill="#262626" stroke="#262626" stroke-width="0.25" transform="translate(24.3 169.9) rotate(-90) scale(1 1.12)" text-anchor="middle">Throughput [Mbps]</text>
<text font-family="Liberation Sans, Arial, Helvetica, sans-serif" font-size="10.9" font-weight="bold" fill="#000" stroke="#000" stroke-width="0.3" transform="translate(298 21.7) scale(1.2 1)" text-anchor="middle">M2 (50m)</text>
<rect x="148.2" y="146.2" width="71" height="51.5" fill="#fff" stroke="#3c3c3c" stroke-width="1.4"/>
<ellipse cx="178" cy="156.3" rx="3.8" ry="3.4" fill="#ff0000"/>
<text font-family="Liberation Sans, Arial, Helvetica, sans-serif" font-size="10.6" fill="#111" stroke="#111" stroke-width="0.3" transform="translate(210 160.5) scale(1.053 1)" text-anchor="middle">1</text>
<ellipse cx="178" cy="172.2" rx="3.8" ry="3.4" fill="#00ff00"/>
<text font-family="Liberation Sans, Arial, Helvetica, sans-serif" font-size="10.6" fill="#111" stroke="#111" stroke-width="0.3" transform="translate(210 176.4) scale(1.053 1)" text-anchor="middle">2</text>
<ellipse cx="178" cy="188.1" rx="3.8" ry="3.4" fill="#0000ff"/>
<text font-family="Liberation Sans, Arial, Helvetica, sans-serif" font-size="10.6" fill="#111" stroke="#111" stroke-width="0.3" transform="translate(210 192.3) scale(1.053 1)" text-anchor="middle">3</text>
</svg>
</body></html>
